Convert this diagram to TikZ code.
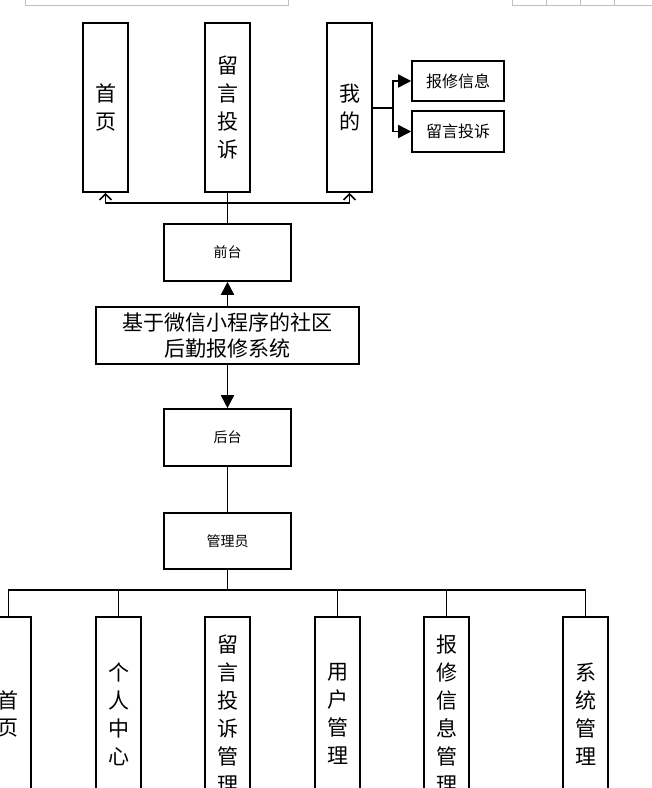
\documentclass[tikz,border=0pt]{standalone}
\usepackage{fontspec}
\setmainfont{Noto Sans CJK SC}
\usetikzlibrary{arrows.meta}
\tikzset{
  box/.style={draw,line width=1.6pt,fill=white,inner sep=0pt},
  vtxt/.style={align=center,font=\fontsize{21}{28}\selectfont},
  ln/.style={line width=1.6pt},
  fa/.style={ln,-{Triangle[length=13pt,width=13pt]}},
  oa/.style={ln,-{Straight Barb[length=6pt,width=12pt]}}
}
\begin{document}
\begin{tikzpicture}[x=1pt,y=-1pt]
\useasboundingbox (0,0) rectangle (652,788);
\clip (0,0) rectangle (652,788);
% partial gray boxes at top
\draw[gray!50] (25,-5) rectangle (288,5);
\draw[gray!50] (512,-5) rectangle (652,5);
\foreach \x in {546,580,614} \draw[gray!50] (\x,-5)--(\x,5);
% top boxes
\node[box,minimum width=45pt,minimum height=169pt] (sy) at (105.5,107.5) {};
\node[vtxt] at (sy) {首\\页};
\node[box,minimum width=45pt,minimum height=169pt] (ly) at (227.5,107.5) {};
\node[vtxt] at (ly) {留\\言\\投\\诉};
\node[box,minimum width=45pt,minimum height=169pt] (wd) at (349.5,107.5) {};
\node[vtxt] at (wd) {我\\的};
\node[box,minimum width=92pt,minimum height=40pt,font=\fontsize{16}{18}\selectfont] (bx) at (458,81) {报修信息};
\node[box,minimum width=92pt,minimum height=41pt,font=\fontsize{16}{18}\selectfont] (lt) at (458,131.5) {留言投诉};
\coordinate (br) at (393,108);
\draw[ln] (wd.east |- br) -- (br);
\draw[fa] (br) |- (bx.west);
\draw[fa] (br) |- (lt.west);
% front
\node[box,minimum width=127pt,minimum height=57pt,font=\fontsize{14}{16}\selectfont] (qt) at (227.5,252.5) {前台};
\coordinate (hb) at (227.5,203);
\draw[ln] (qt.north) -- (ly.south);
\draw[oa] (hb) -| (sy.south);
\draw[oa] (hb) -| (wd.south);
\node[box,minimum width=263pt,minimum height=57pt,align=center,font=\fontsize{21}{26}\selectfont] (main) at (227.5,335.5) {基于微信小程序的社区\\后勤报修系统};
\draw[fa] (main.north) -- (qt.south);
\node[box,minimum width=127pt,minimum height=57pt,font=\fontsize{14}{16}\selectfont] (ht) at (227.5,437.5) {后台};
\draw[fa] (main.south) -- (ht.north);
\node[box,minimum width=127pt,minimum height=56pt,font=\fontsize{14}{16}\selectfont] (gl) at (227.5,541) {管理员};
\draw[ln] (ht.south) -- (gl.north);
% bottom
\coordinate (bb) at (227.5,590);
\draw[ln] (gl.south) -- (bb);
\foreach \n/\x/\t in {b1/8.5/{首\\页},b2/118.5/{个\\人\\中\\心},b3/227.5/{留\\言\\投\\诉\\管\\理},b4/337.5/{用\\户\\管\\理},b5/446.5/{报\\修\\信\\息\\管\\理},b6/585.5/{系\\统\\管\\理}}{
  \node[box,minimum width=45pt,minimum height=200pt] (\n) at (\x,717) {};
  \node[vtxt] at (\x,714) {\t};
}
\draw[ln] (b1.north) |- (bb) -| (b6.north);
\foreach \n in {b2,b4,b5} \draw[ln] (\n.north) -- (\n.north |- bb);
\end{tikzpicture}
\end{document}
